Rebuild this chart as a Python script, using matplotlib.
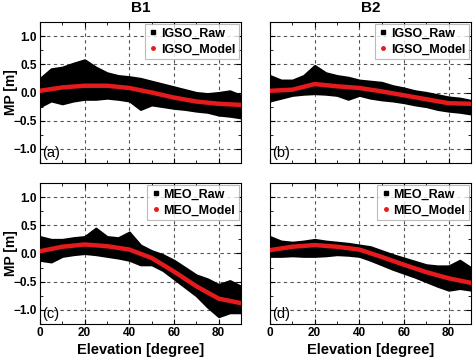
import matplotlib

matplotlib.use("Agg")
import matplotlib.pyplot as plt
import numpy as np
from matplotlib.ticker import MultipleLocator

plt.rcParams.update({
    "font.family": ["Liberation Sans", "DejaVu Sans"],
    "font.weight": "bold",
    "axes.labelweight": "bold",
    "axes.linewidth": 0.8,
})

# model nodes every 10 degrees
model_elev = [0, 10, 20, 30, 40, 50, 60, 70, 80, 90]
model_a = [0.03, 0.09, 0.12, 0.12, 0.08, 0.0, -0.09, -0.16, -0.20, -0.22]
model_b = [0.03, 0.05, 0.15, 0.11, 0.08, 0.02, -0.05, -0.12, -0.19, -0.20]
model_c = [0.04, 0.12, 0.16, 0.13, 0.07, -0.08, -0.32, -0.58, -0.80, -0.88]
model_d = [0.06, 0.12, 0.15, 0.12, 0.07, -0.06, -0.20, -0.33, -0.44, -0.52]

# raw spread (upper / lower envelope) every 5 degrees
raw_elev = [0, 5, 10, 15, 20, 25, 30, 35, 40, 45, 50, 55, 60, 65, 70, 75, 80, 85, 90]
raw_a_hi = [0.25, 0.42, 0.45, 0.52, 0.58, 0.45, 0.35, 0.30, 0.28, 0.25, 0.20, 0.15, 0.10, 0.05, 0.0, -0.02, 0.0, 0.03, -0.05]
raw_a_lo = [-0.25, -0.15, -0.20, -0.15, -0.12, -0.12, -0.10, -0.12, -0.15, -0.30, -0.22, -0.25, -0.28, -0.30, -0.33, -0.35, -0.40, -0.42, -0.45]
raw_b_hi = [0.30, 0.22, 0.22, 0.30, 0.48, 0.35, 0.30, 0.27, 0.22, 0.20, 0.18, 0.12, 0.08, 0.03, 0.0, -0.04, -0.08, -0.10, -0.14]
raw_b_lo = [-0.15, -0.10, -0.05, -0.03, -0.02, -0.03, -0.05, -0.12, -0.05, -0.10, -0.13, -0.15, -0.18, -0.22, -0.25, -0.30, -0.33, -0.35, -0.38]
raw_c_hi = [0.30, 0.25, 0.25, 0.28, 0.30, 0.45, 0.30, 0.28, 0.38, 0.15, 0.05, -0.02, -0.12, -0.25, -0.38, -0.45, -0.55, -0.48, -0.58]
raw_c_lo = [-0.12, -0.15, -0.05, -0.02, 0.0, -0.02, -0.05, -0.08, -0.12, -0.20, -0.20, -0.30, -0.45, -0.60, -0.75, -0.95, -1.12, -1.05, -1.05]
raw_d_hi = [0.30, 0.22, 0.20, 0.22, 0.25, 0.22, 0.20, 0.18, 0.15, 0.12, 0.05, -0.02, -0.08, -0.14, -0.20, -0.22, -0.22, -0.12, -0.25]
raw_d_lo = [-0.05, -0.05, -0.04, -0.05, -0.05, -0.04, -0.02, -0.03, -0.05, -0.12, -0.20, -0.28, -0.35, -0.42, -0.50, -0.58, -0.65, -0.62, -0.65]

panels = [
    ("(a)", "IGSO", model_a, raw_a_hi, raw_a_lo),
    ("(b)", "IGSO", model_b, raw_b_hi, raw_b_lo),
    ("(c)", "MEO", model_c, raw_c_hi, raw_c_lo),
    ("(d)", "MEO", model_d, raw_d_hi, raw_d_lo),
]
col_titles = ["B1", "B2"]

fig = plt.figure(figsize=(4.74, 3.64), dpi=100)
lefts = [40 / 474, 270 / 474]
bottoms = [1 - 163 / 364, 1 - 324 / 364]
w, h = 201 / 474, 141 / 364

for i, (tag, sat, model, hi, lo) in enumerate(panels):
    row, col = divmod(i, 2)
    ax = fig.add_axes([lefts[col], bottoms[row], w, h])
    ax.grid(True, color="#555555", linestyle=(0, (3, 3)), linewidth=0.8)
    ax.set_axisbelow(True)
    ax.fill_between(raw_elev, lo, hi, color="black", linewidth=1.5, edgecolor="black", zorder=2)
    ax.plot(model_elev, model, color="#e41a1c", linewidth=3.2, zorder=3)
    ax.plot([], [], "s", color="black", markersize=2.5, linestyle="none", label=f"{sat}_Raw")
    ax.plot([], [], "o", color="#e41a1c", markersize=2.5, linestyle="none", label=f"{sat}_Model")
    ax.set_xlim(0, 90)
    ax.set_ylim(-1.25, 1.25)
    ax.xaxis.set_major_locator(MultipleLocator(20))
    ax.xaxis.set_minor_locator(MultipleLocator(10))
    ax.yaxis.set_major_locator(MultipleLocator(0.5))
    ax.yaxis.set_minor_locator(MultipleLocator(0.25))
    ax.tick_params(which="both", direction="in", top=True, right=True, labelsize=8.5, pad=2)
    ax.tick_params(which="major", length=3.5)
    ax.tick_params(which="minor", length=2)
    if col == 0:
        ax.set_ylabel("MP [m]", fontsize=10)
        ax.yaxis.set_label_coords(-0.11, 0.5)
    else:
        ax.tick_params(labelleft=False)
    if row == 0:
        ax.tick_params(labelbottom=False)
        ax.set_title(col_titles[col], fontsize=11, fontweight="bold", pad=7)
    else:
        ax.set_xlabel("Elevation [degree]", fontsize=10.5, labelpad=3)
    ax.text(0.01, 0.02, tag, transform=ax.transAxes, fontsize=10.5, fontweight="normal",
            ha="left", va="bottom")
    leg = ax.legend(loc="upper right", fontsize=9, frameon=True, fancybox=False,
                    handletextpad=0.3, borderpad=0.3, labelspacing=0.3,
                    handlelength=0.7, borderaxespad=0.15)
    leg.get_frame().set_edgecolor("#aaaaaa")
    leg.get_frame().set_linewidth(0.8)

fig.savefig("out.png", dpi=100)
